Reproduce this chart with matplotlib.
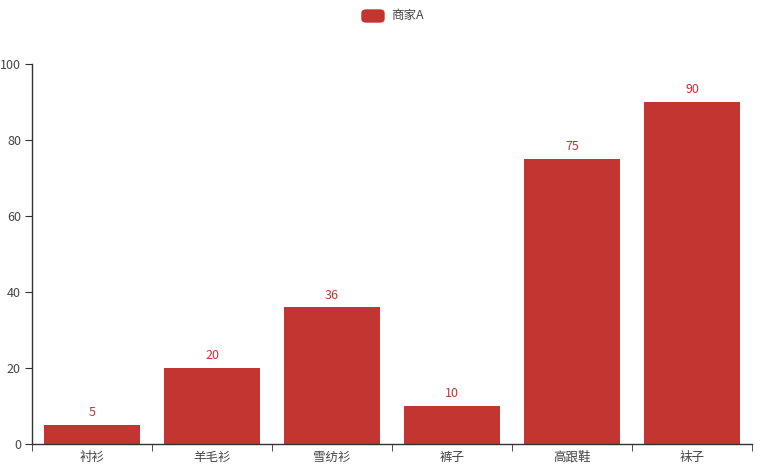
import matplotlib
matplotlib.use("Agg")
import matplotlib.pyplot as plt
from matplotlib.patches import FancyBboxPatch

plt.rcParams['font.family'] = ['Noto Sans CJK SC', 'DejaVu Sans']

categories = ["衬衫", "羊毛衫", "雪纺衫", "裤子", "高跟鞋", "袜子"]
values = [5, 20, 36, 10, 75, 90]
series_name = "商家A"
color = "#c23531"

W, H = 761, 472
fig = plt.figure(figsize=(W / 100, H / 100), dpi=100)
ax = fig.add_axes([32 / W, (H - 444) / H, 720 / W, 380 / H])

x = list(range(len(categories)))
bars = ax.bar(x, values, width=0.8, color=color)
for xi, v in zip(x, values):
    ax.annotate(str(v), (xi, v), xytext=(0, 4), textcoords="offset points",
                ha="center", va="bottom", color=color, fontsize=9)

ax.set_xlim(-0.5, len(categories) - 0.5)
ax.set_ylim(0, 100)
ax.set_yticks(range(0, 101, 20))
ax.set_xticks(x)
ax.set_xticklabels(categories)
ax.set_xticks([i - 0.5 for i in range(len(categories) + 1)], minor=True)
ax.tick_params(axis="x", which="major", length=0, labelsize=9, labelcolor="#444444", pad=5)
ax.tick_params(axis="x", which="minor", length=5, color="#333333", direction="out")
ax.tick_params(axis="y", length=5, color="#333333", labelsize=9, labelcolor="#444444", pad=3)

for s in ["top", "right"]:
    ax.spines[s].set_visible(False)
for s in ["left", "bottom"]:
    ax.spines[s].set_color("#333333")
    ax.spines[s].set_linewidth(1)

# legend like echarts
fig.patches.append(FancyBboxPatch((362 / W, (H - 22) / H), 22 / W, 12 / H,
                                  boxstyle="round,pad=0,rounding_size=0.006",
                                  transform=fig.transFigure, color=color))
fig.text(391 / W, (H - 16) / H, series_name, fontsize=9, color="#444444",
         ha="left", va="center")

fig.savefig("out.png", dpi=100)
